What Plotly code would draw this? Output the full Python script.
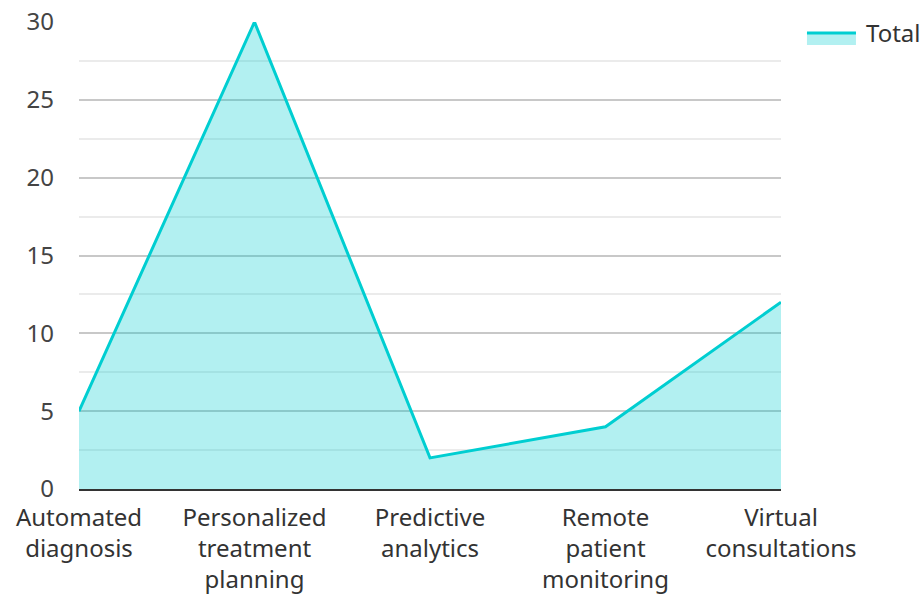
import plotly.graph_objects as go

categories = [
    "Automated<br>diagnosis",
    "Personalized<br>treatment<br>planning",
    "Predictive<br>analytics",
    "Remote<br>patient<br>monitoring",
    "Virtual<br>consultations",
]
totals = [5, 30, 2, 4, 12]
y_ticks = [0, 5, 10, 15, 20, 25, 30]
series_name = "Total"

line_color = "#00CED1"
fill_color = "rgba(0, 206, 209, 0.30)"
font_family = "Noto Sans, Open Sans, sans-serif"
font_size = 24

fig = go.Figure()
fig.add_trace(go.Scatter(
    x=categories,
    y=totals,
    name=series_name,
    mode="lines",
    line=dict(color=line_color, width=3),
    fill="tozeroy",
    fillcolor=fill_color,
    showlegend=False,
))

# Legend key drawn beside the plot: swatch (fill + line) and label
fig.add_shape(type="rect", xref="paper", yref="paper",
              x0=1.037, x1=1.1068, y0=0.9507, y1=0.9764,
              fillcolor=fill_color, line=dict(width=0))
fig.add_shape(type="line", xref="paper", yref="paper",
              x0=1.037, x1=1.1068, y0=0.9764, y1=0.9764,
              line=dict(color=line_color, width=3))
fig.add_annotation(xref="paper", yref="paper", x=1.1182, y=0.9785,
                   xanchor="left", yanchor="middle", showarrow=False,
                   text=series_name, font=dict(size=font_size, color="#333333"))

fig.update_layout(
    width=922,
    height=594,
    margin=dict(l=79, r=141, t=22, b=105, autoexpand=False),
    paper_bgcolor="white",
    plot_bgcolor="white",
    font=dict(family=font_family, size=font_size, color="#444444"),
    showlegend=False,
    xaxis=dict(
        type="category",
        range=[0, len(categories) - 1],
        automargin=False,
        showgrid=False,
        showline=True,
        linecolor="#333333",
        linewidth=2,
        ticks="",
        ticklabelstandoff=6,
        tickfont=dict(size=font_size, color="#333333"),
        fixedrange=True,
    ),
    yaxis=dict(
        range=[0, 30],
        tickvals=y_ticks,
        automargin=False,
        showgrid=True,
        gridcolor="#c8c8c8",
        gridwidth=1.5,
        zeroline=False,
        showline=False,
        ticks="",
        ticklabelstandoff=24,
        tickfont=dict(size=font_size, color="#444444"),
        minor=dict(dtick=2.5, showgrid=True, gridcolor="#ebebeb", gridwidth=1.5),
        fixedrange=True,
    ),
)

fig.write_html("out.html")
